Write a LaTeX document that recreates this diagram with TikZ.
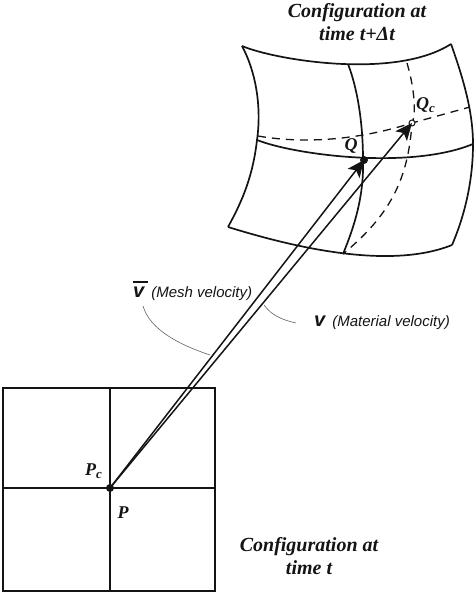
\documentclass[tikz,border=0pt]{standalone}
\usepackage{fontspec}
\setmainfont{Liberation Serif}
\setsansfont{Liberation Sans}
\usepackage{xcolor}
\definecolor{textcolor}{RGB}{20,20,20}
\definecolor{leadcolor}{RGB}{95,95,95}
\usepackage{tikz}
\usetikzlibrary{arrows.meta}
\tikzset{
  meshline/.style={line width=1.7pt, color=textcolor},
  hiddenline/.style={line width=1.3pt, color=textcolor, dash pattern=on 8pt off 6pt},
  velarrow/.style={line width=1.5pt, color=textcolor, -{Stealth[length=17pt,width=15pt,inset=4pt]}},
  leadline/.style={line width=0.6pt, color=leadcolor},
  titlelabel/.style={font=\fontsize{20}{22.5}\selectfont\bfseries\itshape, align=center, inner sep=0pt},
  pointlabel/.style={font=\fontsize{18}{20}\selectfont\bfseries\itshape, inner sep=0pt},
  vellabel/.style={font=\fontsize{15}{18}\selectfont\sffamily\itshape, inner sep=0pt},
}
\begin{document}
\begin{tikzpicture}[x=1pt, y=-1pt, every node/.style={color=textcolor}]
  \useasboundingbox (0,0) rectangle (474,593);
  % grid at time t
  \coordinate (boxtl) at (3,388);
  \coordinate (boxbr) at (215,591);
  \coordinate (gridt) at (110,388);
  \coordinate (gridb) at (110,591);
  \coordinate (gridl) at (3,488);
  \coordinate (gridr) at (215,488);
  \draw[meshline] (boxtl) rectangle (boxbr);
  \draw[meshline] (gridt) -- (gridb);
  \draw[meshline] (gridl) -- (gridr);
  \draw[line width=2.4pt, color=textcolor] (90,488) -- (144,488);
  % deformed grid at t+dt
  \coordinate (cornertl) at (242,46);
  \coordinate (cornertr) at (451,44);
  \coordinate (cornerbl) at (228,227);
  \coordinate (cornerbr) at (452,245);
  \coordinate (midleft) at (257,140);
  \coordinate (midright) at (473,144);
  \coordinate (midtop) at (348,64);
  \coordinate (midbot) at (343,254);
  \draw[meshline] (cornertl) .. controls (275,60) and (395,80) .. (cornertr);
  \draw[meshline] (cornertl) .. controls (255,70) and (262,105) .. (midleft);
  \draw[meshline] (midleft) .. controls (253,175) and (243,200) .. (cornerbl);
  \draw[meshline] (cornertr) .. controls (462,75) and (473,110) .. (midright);
  \draw[meshline] (midright) .. controls (473,180) and (465,215) .. (cornerbr);
  \draw[meshline] (cornerbl) .. controls (280,243) and (385,272) .. (cornerbr);
  \draw[meshline] (midleft) .. controls (295,155) and (410,170) .. (midright);
  \draw[meshline] (midtop) .. controls (358,90) and (363,125) .. (363,160);
  \draw[meshline] (363,160) .. controls (364,195) and (355,225) .. (midbot);
  % dashed lines through Qc
  \coordinate (dashleft) at (258,136);
  \coordinate (dashright) at (470,107);
  \coordinate (dashtop) at (407,63);
  \draw[hiddenline] (dashleft) .. controls (310,145) and (365,138) .. (412,123) -- (dashright);
  \draw[hiddenline] (dashtop) .. controls (415,90) and (416,115) .. (412,123)
    .. controls (408,180) and (390,215) .. (midbot);
  % points and arrows
  \node[circle, fill=textcolor, inner sep=0pt, minimum size=8pt] (P) at (110,488) {};
  \node[circle, fill=textcolor, inner sep=0pt, minimum size=8pt] (Q) at (364,160) {};
  \node[circle, draw=textcolor, fill=white, line width=1pt, inner sep=0pt, minimum size=6pt] (Qc) at (412,123) {};
  \draw[velarrow] (P.center) -- (Q.center);
  \draw[velarrow] (P.center) -- (Qc.center);
  % labels
  \node[titlelabel] (titlenew) at (357,22) {Configuration at\\time t+Δt};
  \node[titlelabel] (titleold) at (309,556) {Configuration at\\time t};
  \node[pointlabel] (labelQ) at (351,146) {Q};
  \node[pointlabel, anchor=west] (labelQc) at (416,105) {Q\raisebox{-3pt}{\fontsize{13}{13}\selectfont c}};
  \node[pointlabel, anchor=west] (labelPc) at (85,471) {P\raisebox{-3pt}{\fontsize{13}{13}\selectfont c}};
  \node[pointlabel] (labelP) at (123,513) {P};
  \node[vellabel, anchor=west] (labelmesh) at (133,291) {\textbf{\fontsize{20}{20}\selectfont\rlap{\raisebox{14pt}{\rule{15pt}{2pt}}}v}\hspace{7pt}(Mesh velocity)};
  \node[vellabel, anchor=west] (labelmat) at (314,323) {\textbf{\fontsize{20}{20}\selectfont v}\hspace{7pt}(Material velocity)};
  % lead lines
  \coordinate (meshstart) at (143,306);
  \coordinate (meshend) at (210,355);
  \coordinate (matstart) at (264,305);
  \coordinate (matend) at (296,323);
  \draw[leadline] (meshstart) .. controls (150,330) and (180,345) .. (meshend);
  \draw[leadline] (matstart) .. controls (272,316) and (283,320) .. (matend);
\end{tikzpicture}
\end{document}
